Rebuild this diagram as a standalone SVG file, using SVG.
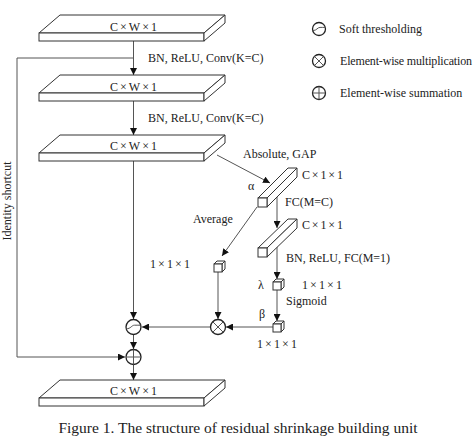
<svg xmlns="http://www.w3.org/2000/svg" width="474" height="437" viewBox="0 0 474 437">
<defs>
<style>
.t{font-family:"Liberation Serif","Times New Roman",serif;font-size:12px;fill:#222}
.sl{fill:#fff;stroke:#333;stroke-width:1}
.ln{fill:none;stroke:#555;stroke-width:1}
.op{fill:#fff;stroke:#222;stroke-width:1.3}
</style>
<marker id="ar" viewBox="0 0 8 8" refX="8" refY="4" markerWidth="7" markerHeight="7" markerUnits="userSpaceOnUse" orient="auto">
<path d="M0,0 L8,4 L0,8 Z" fill="#111"/>
</marker>
</defs>
<rect width="474" height="437" fill="#fff"/>

<g id="connectors">
<line class="ln" x1="133.5" y1="41" x2="133.5" y2="75" marker-end="url(#ar)"/>
<line class="ln" x1="133.5" y1="101" x2="133.5" y2="135" marker-end="url(#ar)"/>
<line class="ln" x1="133.5" y1="161" x2="133.5" y2="319" marker-end="url(#ar)"/>
<line class="ln" x1="133.5" y1="335" x2="133.5" y2="349" marker-end="url(#ar)"/>
<line class="ln" x1="133.5" y1="365" x2="133.5" y2="380" marker-end="url(#ar)"/>
<polyline class="ln" points="133.5,58 17,58 17,357 125,357" marker-end="url(#ar)"/>
<line class="ln" x1="217" y1="155" x2="270" y2="183" marker-end="url(#ar)"/>
<line class="ln" x1="277" y1="197" x2="277" y2="228" marker-end="url(#ar)"/>
<line class="ln" x1="277" y1="247" x2="277" y2="279" marker-end="url(#ar)"/>
<line class="ln" x1="277" y1="290" x2="277" y2="321" marker-end="url(#ar)"/>
<line class="ln" x1="257" y1="207" x2="222" y2="256" marker-end="url(#ar)"/>
<line class="ln" x1="218" y1="272" x2="218" y2="319" marker-end="url(#ar)"/>
<line class="ln" x1="273" y1="327" x2="226" y2="327" marker-end="url(#ar)"/>
<line class="ln" x1="210" y1="327" x2="142" y2="327" marker-end="url(#ar)"/>
</g>

<g id="slab1">
<polygon class="sl" points="39,33 60,15 225,15 204,33"/>
<rect class="sl" x="39" y="33" width="165" height="8"/>
<polygon class="sl" points="204,33 225,15 225,23 204,41"/>
<text class="t" x="110" y="31" textLength="47">C×W×1</text>
</g>
<g id="slab2">
<polygon class="sl" points="39,93 60,75 225,75 204,93"/>
<rect class="sl" x="39" y="93" width="165" height="8"/>
<polygon class="sl" points="204,93 225,75 225,83 204,101"/>
<text class="t" x="110" y="91" textLength="47">C×W×1</text>
</g>
<g id="slab3">
<polygon class="sl" points="39,153 60,135 225,135 204,153"/>
<rect class="sl" x="39" y="153" width="165" height="8"/>
<polygon class="sl" points="204,153 225,135 225,143 204,161"/>
<text class="t" x="110" y="150" textLength="47">C×W×1</text>
</g>
<g id="slab4">
<polygon class="sl" points="39,398 60,380 225,380 204,398"/>
<rect class="sl" x="39" y="398" width="165" height="8"/>
<polygon class="sl" points="204,398 225,380 225,388 204,406"/>
<text class="t" x="110" y="395" textLength="47">C×W×1</text>
</g>

<g id="bar1">
<polygon class="sl" points="258,198 288,168 297,168 267,198"/>
<polygon class="sl" points="267,198 297,168 297,177 267,207"/>
<rect class="sl" x="258" y="198" width="9" height="9"/>
<text class="t" x="302" y="179" textLength="41">C×1×1</text>
<text class="t" x="248" y="190">α</text>
</g>
<g id="bar2">
<polygon class="sl" points="258,248 288,219 297,219 267,248"/>
<polygon class="sl" points="267,248 297,219 297,228 267,257"/>
<rect class="sl" x="258" y="248" width="9" height="9"/>
<text class="t" x="302" y="229" textLength="41">C×1×1</text>
</g>

<g id="cube-avg">
<polygon class="sl" points="214,264 217,261 225,261 222,264"/>
<polygon class="sl" points="222,264 225,261 225,269 222,272"/>
<rect class="sl" x="214" y="264" width="8" height="8"/>
<text class="t" x="150" y="268" textLength="40">1×1×1</text>
</g>
<g id="cube-lambda">
<polygon class="sl" points="273,282 276,279 284,279 281,282"/>
<polygon class="sl" points="281,282 284,279 284,287 281,290"/>
<rect class="sl" x="273" y="282" width="8" height="8"/>
<text class="t" x="258" y="289">λ</text>
<text class="t" x="302" y="289" textLength="40">1×1×1</text>
</g>
<g id="cube-beta">
<polygon class="sl" points="273,324 276,321 284,321 281,324"/>
<polygon class="sl" points="281,324 284,321 284,329 281,332"/>
<rect class="sl" x="273" y="324" width="8" height="8"/>
<text class="t" x="259" y="318">β</text>
<text class="t" x="257" y="348" textLength="40">1×1×1</text>
</g>

<g id="soft-threshold">
<circle class="op" cx="133.5" cy="327" r="7.5"/>
<path class="ln" stroke="#222" stroke-width="1.2" d="M126.2,328.8 C131,328.8 131.5,325.2 134.5,325.2 C137,325.2 139,325.2 140.8,325.2"/>
</g>
<g id="multiply">
<circle class="op" cx="218" cy="327" r="7.5"/>
<path class="ln" stroke="#222" d="M212.7,321.7 L223.3,332.3 M223.3,321.7 L212.7,332.3"/>
</g>
<g id="sum">
<circle class="op" cx="133.5" cy="357" r="7.5"/>
<path class="ln" stroke="#222" d="M126,357 L141,357 M133.5,349.5 L133.5,364.5"/>
</g>

<g id="labels">
<text class="t" x="148" y="62">BN, ReLU, Conv(K=C)</text>
<text class="t" x="148" y="122">BN, ReLU, Conv(K=C)</text>
<text class="t" x="243" y="158">Absolute, GAP</text>
<text class="t" x="285" y="206">FC(M=C)</text>
<text class="t" x="286" y="262">BN, ReLU, FC(M=1)</text>
<text class="t" x="286" y="305">Sigmoid</text>
<text class="t" x="193" y="223">Average</text>
<text class="t" transform="translate(11,201) rotate(-90)" text-anchor="middle">Identity shortcut</text>
</g>

<g id="legend">
<circle class="op" cx="319" cy="29" r="6.5"/>
<path class="ln" stroke="#222" stroke-width="1.2" d="M312.7,30.6 C317,30.6 317.3,27.4 320,27.4 C322,27.4 323.5,27.4 325.3,27.4"/>
<text class="t" x="339" y="33">Soft thresholding</text>
<circle class="op" cx="319" cy="61" r="6.5"/>
<path class="ln" stroke="#222" d="M314.4,56.4 L323.6,65.6 M323.6,56.4 L314.4,65.6"/>
<text class="t" x="340" y="65" textLength="132">Element-wise multiplication</text>
<circle class="op" cx="319" cy="93" r="6.5"/>
<path class="ln" stroke="#222" d="M312.5,93 L325.5,93 M319,86.5 L319,99.5"/>
<text class="t" x="340" y="97">Element-wise summation</text>
</g>

<text class="t" x="238" y="433" text-anchor="middle" style="font-size:15.5px">Figure 1. The structure of residual shrinkage building unit</text>
</svg>
